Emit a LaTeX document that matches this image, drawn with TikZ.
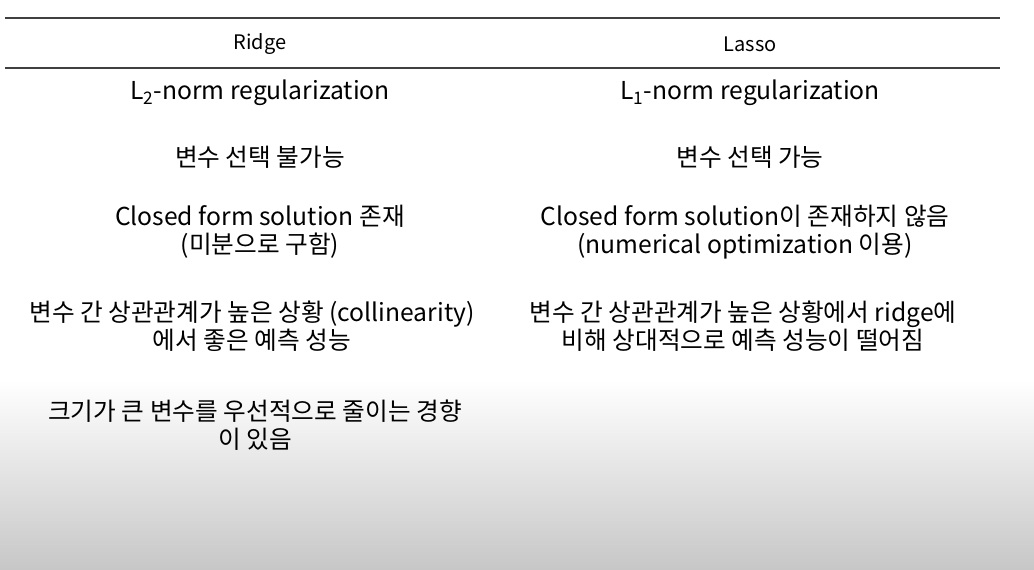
\documentclass[tikz,border=0pt]{standalone}
\usepackage{fontspec}
\setmainfont{Noto Sans CJK KR}
\usetikzlibrary{positioning}
\tikzset{
    cell/.style={align=center,font=\fontsize{18.5}{21}\selectfont,inner sep=0pt},
    head/.style={align=center,font=\fontsize{15}{18}\selectfont,inner sep=0pt},
    rule/.style={draw=black!75,line width=0.9pt},
}
\begin{document}
\begin{tikzpicture}[x=0.75pt,y=-0.75pt]
 \useasboundingbox (0,0) rectangle (1034,570);
 \fill[white] (0,0) rectangle (1034,570);
 \shade[top color=white,bottom color=black!22] (0,380) rectangle (1034,570);

 \coordinate (tl) at (5,18);
 \coordinate (tr) at (1000,18);
 \coordinate (hl) at (5,68);
 \coordinate (hr) at (1000,68);
 \draw[rule] (tl) -- (tr);
 \draw[rule] (hl) -- (hr);

 \node[head] (ridge) at (260,44) {Ridge};
 \node[head] (lasso) at (750,44) {Lasso};

 \node[cell] (r1) at (260,93) {\textit{L}\textsubscript{\textit{2}}-norm regularization};
 \node[cell] (l1) at (750,93) {\textit{L}\textsubscript{\textit{1}}-norm regularization};

 \node[cell] (r2) at (260,157) {변수 선택 불가능};
 \node[cell] (l2) at (750,157) {변수 선택 가능};

 \node[cell] (r3) at (260,232) {Closed form solution 존재\\(미분으로 구함)};
 \node[cell] (l3) at (745,232) {Closed form solution이 존재하지 않음\\(numerical optimization 이용)};

 \node[cell] (r4) at (252,326) {변수 간 상관관계가 높은 상황 (collinearity)\\에서 좋은 예측 성능};
 \node[cell] (l4) at (743,326) {변수 간 상관관계가 높은 상황에서 ridge에\\비해 상대적으로 예측 성능이 떨어짐};

 \node[cell] (r5) at (255,425) {크기가 큰 변수를 우선적으로 줄이는 경향\\이 있음};
\end{tikzpicture}
\end{document}
